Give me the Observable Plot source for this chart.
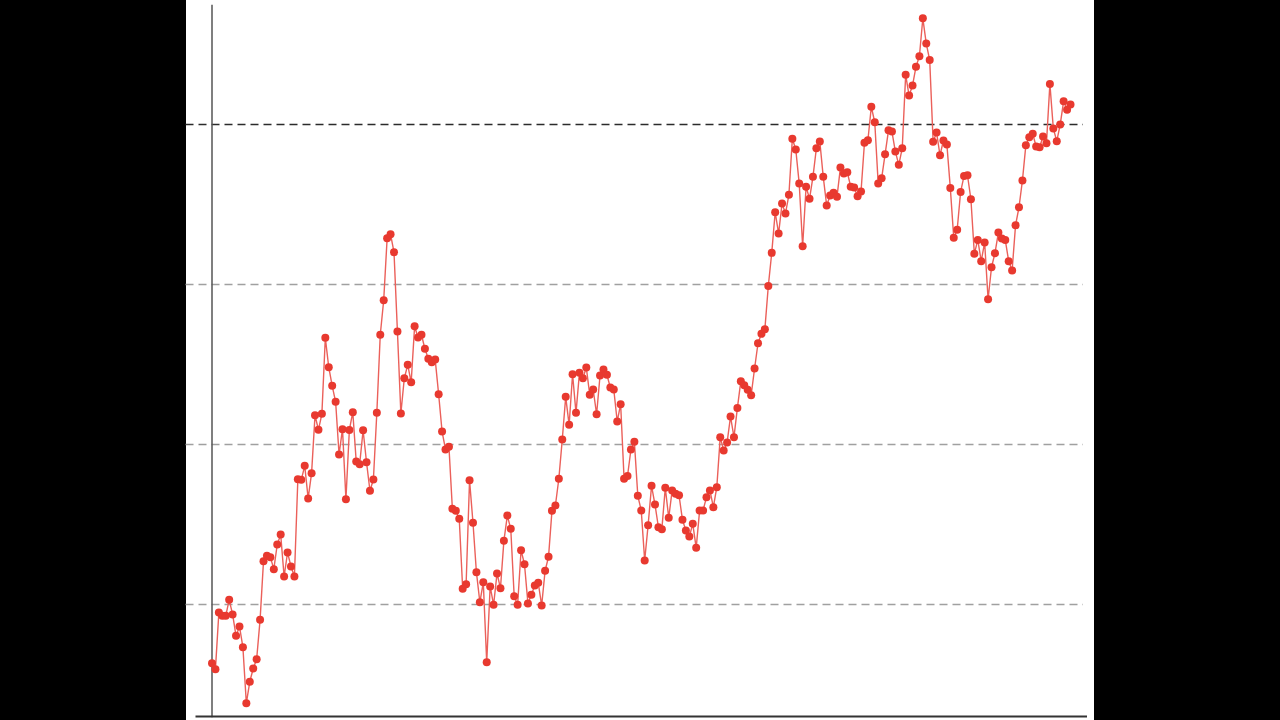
<!DOCTYPE html>
<html>
<head>
<meta charset="utf-8">
<script src="https://cdn.jsdelivr.net/npm/d3@7"></script>
<script src="https://cdn.jsdelivr.net/npm/@observablehq/plot@0.6"></script>
<style>
  html, body { margin: 0; padding: 0; background: #000; width: 1280px; height: 720px; overflow: hidden; }
  #panel { position: absolute; left: 186px; top: 0; width: 908px; height: 720px; background: #fff; }
</style>
</head>
<body>
<div id="panel"></div>
<script>
// Series values (one per step)
const values = [
  16.33, 15.96, 19.50, 19.29, 19.29, 20.29, 19.38, 18.04, 18.63, 17.33,
  13.83, 15.17, 16.00, 16.58, 19.04, 22.71, 23.04, 22.96, 22.21, 23.75,
  24.38, 21.75, 23.25, 22.38, 21.75, 27.83, 27.79, 28.67, 26.63, 28.21,
  31.83, 30.92, 31.92, 36.67, 34.83, 33.67, 32.67, 29.38, 30.96, 26.58,
  30.91, 32.02, 28.94, 28.77, 30.89, 28.89, 27.11, 27.81, 31.98, 36.86,
  39.02, 42.89, 43.14, 42.02, 37.06, 31.94, 34.14, 34.98, 33.89, 37.39,
  36.69, 36.86, 35.98, 35.36, 35.14, 35.31, 33.14, 30.81, 29.69, 29.86,
  25.98, 25.86, 25.36, 20.98, 21.27, 27.77, 25.11, 22.02, 20.14, 21.39,
  16.39, 21.13, 19.98, 21.94, 21.02, 23.98, 25.56, 24.73, 20.52, 19.98,
  23.39, 22.52, 20.06, 20.61, 21.19, 21.36, 19.94, 22.11, 22.98, 25.86,
  26.19, 27.86, 30.31, 32.98, 31.23, 34.39, 31.98, 34.48, 34.14, 34.81,
  33.11, 33.44, 31.89, 34.31, 34.69, 34.36, 33.56, 33.44, 31.44, 32.52,
  27.86, 28.03, 29.69, 30.17, 26.79, 25.88, 22.75, 24.96, 27.42, 26.25,
  24.83, 24.71, 27.29, 25.42, 27.13, 26.92, 26.83, 25.29, 24.63, 24.25,
  25.04, 23.54, 25.88, 25.88, 26.71, 27.13, 26.08, 27.33, 30.46, 29.63,
  30.13, 31.75, 30.46, 32.29, 33.96, 33.71, 33.42, 33.08, 34.75, 36.33,
  36.92, 37.21, 39.91, 41.98, 44.52, 43.19, 45.06, 44.44, 45.61, 49.11,
  48.44, 46.31, 42.39, 46.11, 45.36, 46.73, 48.52, 48.94, 46.73, 44.94,
  45.56, 45.73, 45.48, 47.31, 46.94, 47.02, 46.11, 46.06, 45.52, 45.81,
  48.86, 49.02, 51.11, 50.14, 46.31, 46.64, 48.14, 49.64, 49.56, 48.31,
  47.48, 48.52, 53.11, 51.81, 52.44, 53.61, 54.27, 56.64, 55.06, 54.03,
  48.92, 49.50, 48.08, 49.00, 48.75, 46.04, 42.92, 43.42, 45.79, 46.79,
  46.83, 45.33, 41.92, 42.79, 41.46, 42.63, 39.08, 41.08, 41.96, 43.25,
  42.88, 42.79, 41.46, 40.88, 43.71, 44.83, 46.50, 48.71, 49.21, 49.42,
  48.63, 48.58, 49.25, 48.83, 52.54, 49.75, 48.96, 50.00, 51.46, 50.92,
  51.25
];
const steps = values.map((_, i) => i + 1);
const gridValues = [20, 30, 40];
const referenceValue = [50];
const yDomain = [13, 57.44];

const data = values.map((v, i) => ({ step: steps[i], value: v }));

const chart = Plot.plot({
  width: 908,
  height: 720,
  marginLeft: 25.5,
  marginRight: 24,
  marginTop: 5,
  marginBottom: 4,
  style: { background: "transparent", overflow: "visible" },
  x: { domain: [steps[0], steps[steps.length - 1]], axis: null },
  y: { domain: yDomain, axis: null },
  marks: [
    Plot.ruleY(gridValues, { stroke: "#a0a0a0", strokeWidth: 1.4, strokeDasharray: "8,5", insetLeft: -26, insetRight: -13 }),
    Plot.ruleY(referenceValue, { stroke: "#2b2b2b", strokeWidth: 1.6, strokeDasharray: "8,5", insetLeft: -26, insetRight: -13 }),
    Plot.frame({ anchor: "left", stroke: "#555", strokeWidth: 1.5 }),
    Plot.ruleY([yDomain[0]], { stroke: "#333", strokeWidth: 2, insetLeft: -16, insetRight: -17 }),
    Plot.line(data, { x: "step", y: "value", stroke: "#eb605a", strokeWidth: 1.4 }),
    Plot.dot(data, { x: "step", y: "value", r: 4, fill: "#e8392f", stroke: "none" })
  ]
});
document.getElementById("panel").appendChild(chart);
</script>
</body>
</html>
